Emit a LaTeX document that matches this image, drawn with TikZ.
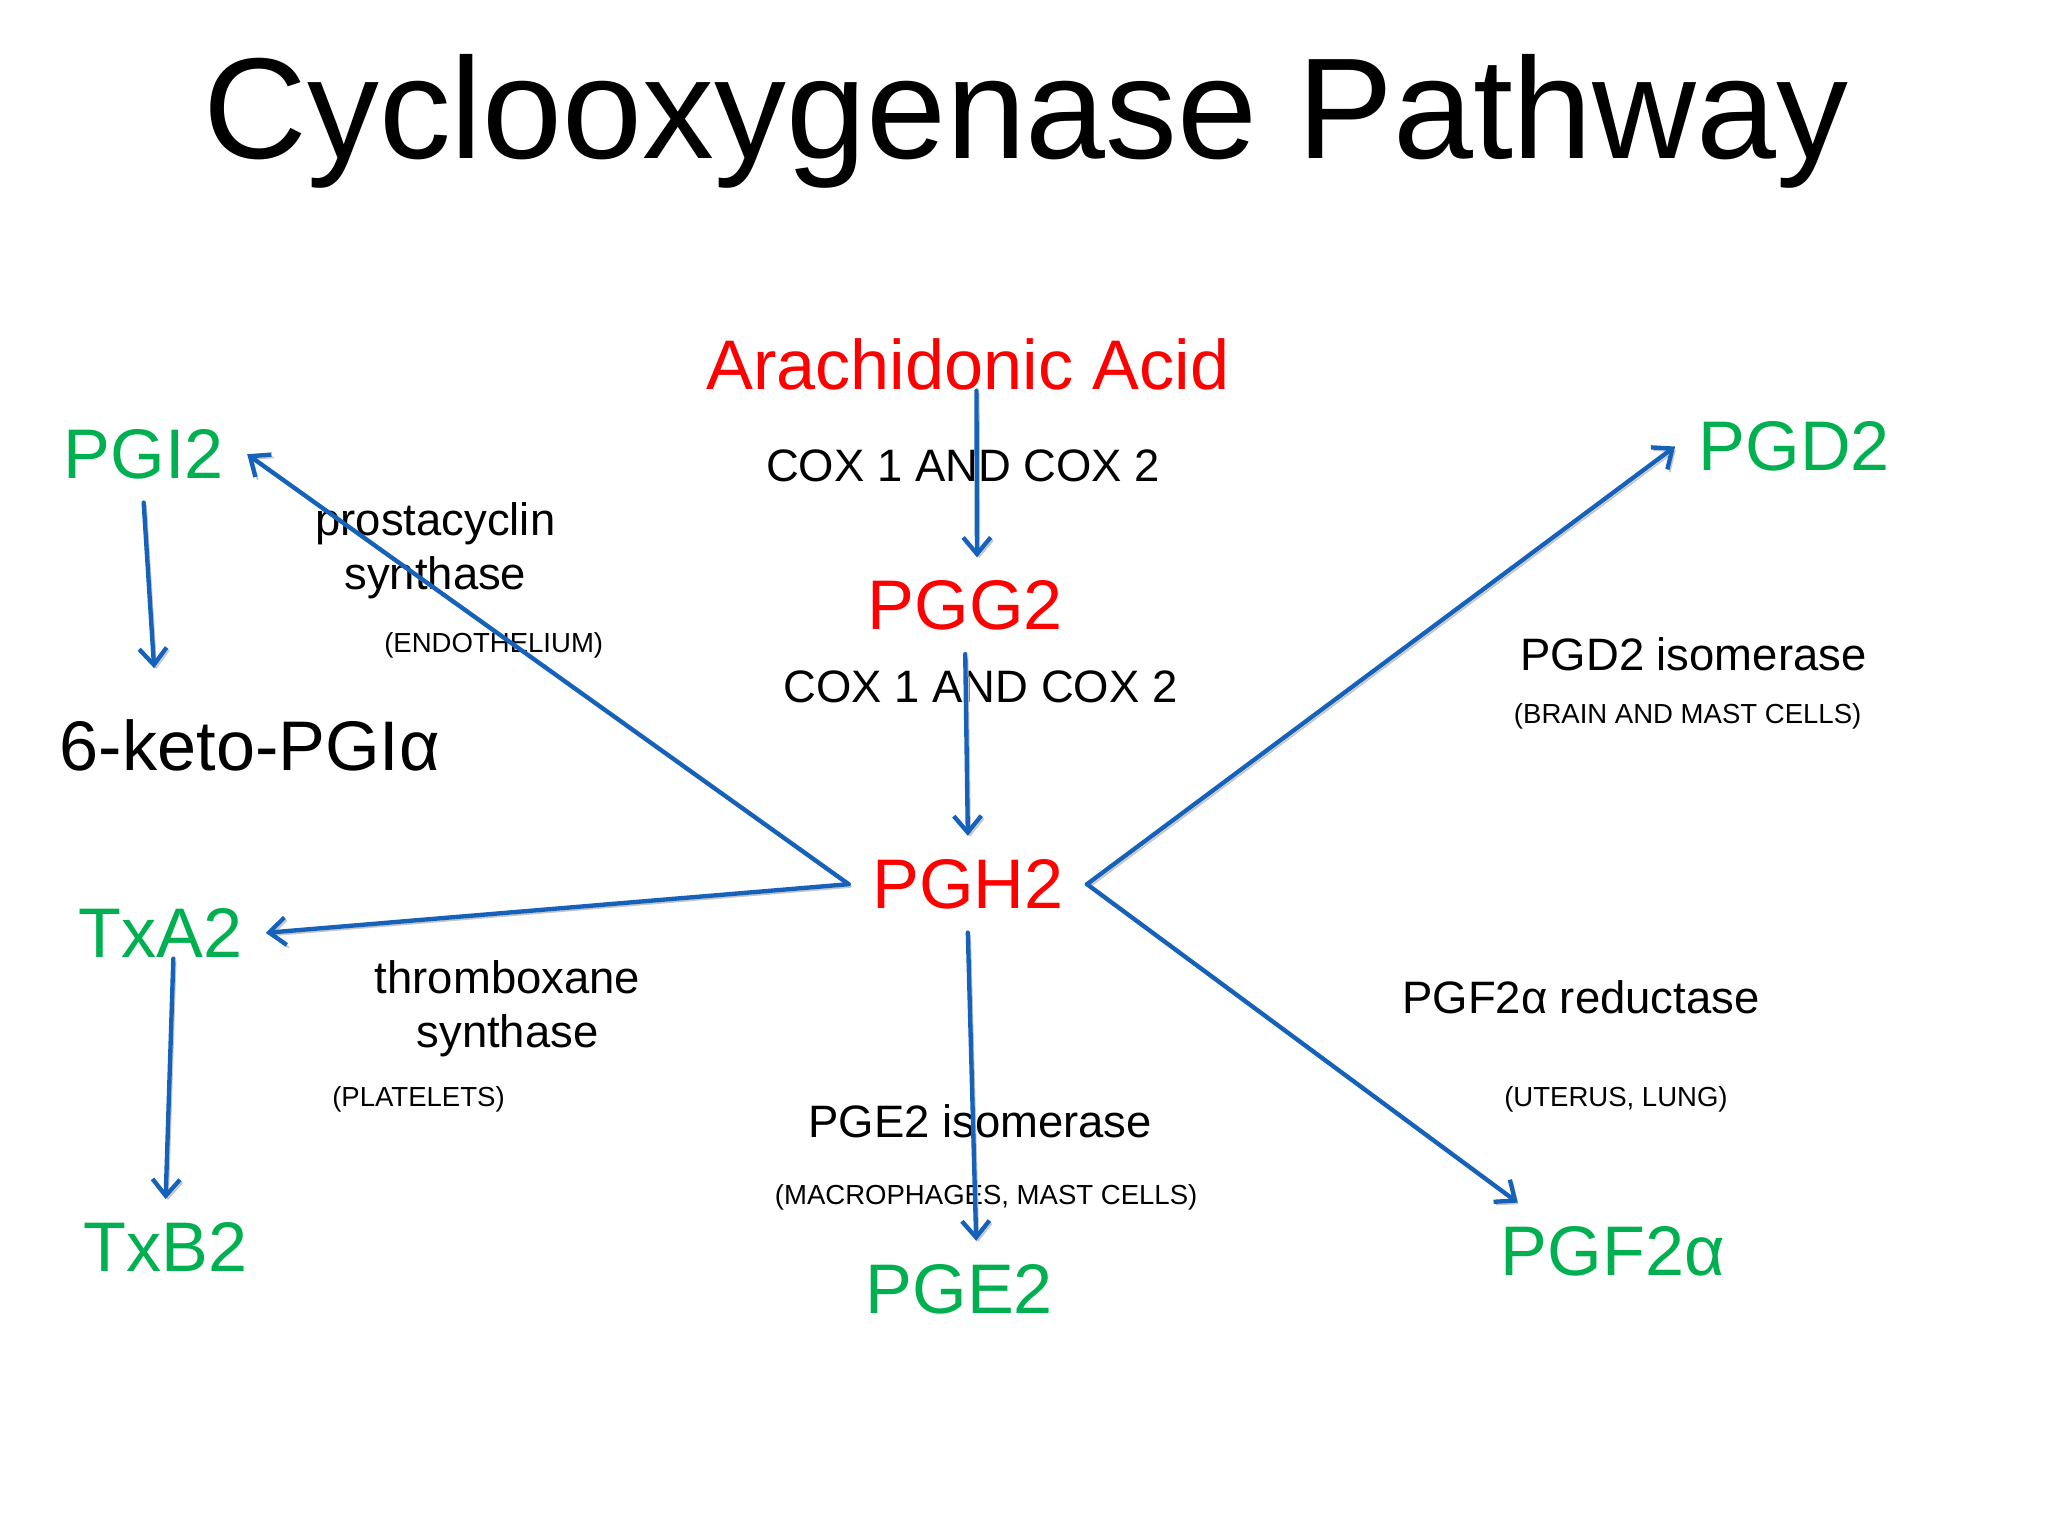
\documentclass[tikz,border=0pt]{standalone}
\usepackage{fontspec}
\setmainfont{Liberation Sans}
\usetikzlibrary{arrows.meta,calc}
\definecolor{coxred}{RGB}{255,0,0}
\definecolor{coxgreen}{RGB}{0,176,80}
\definecolor{coxblue}{RGB}{22,98,186}

\begin{document}
\begin{tikzpicture}[
  every node/.style={inner sep=0pt, anchor=base},
  cpd/.style={font=\fontsize{15.3}{18}\selectfont, outer sep=0.18cm},
  enz/.style={font=\fontsize{9.9}{11.8}\selectfont, align=center},
  site/.style={font=\fontsize{6}{7}\selectfont},
  arr/.style={-{Straight Barb[length=3.6pt,width=6pt]}, coxblue, line width=0.95pt, line cap=round,
    preaction={draw=black!22, transform canvas={xshift=0.5pt,yshift=-0.6pt}}}
]
\useasboundingbox (0,0) rectangle (15.68,11.76);
% Title
\node[font=\fontsize{31.3}{36}\selectfont] (title) at (7.856,10.548) {Cyclooxygenase Pathway};

% COX steps
\node[cpd,coxred,outer sep=0pt] (AA) at (7.41,8.774) {Arachidonic Acid};
\node[enz] (cox1) at (7.374,8.071) {COX 1 AND COX 2};
\node[cpd,coxred] (PGG2) at (7.39,6.937) {PGG2};
\node[enz] (cox2) at (7.507,6.38) {COX 1 AND COX 2};
\node[cpd,coxred] (PGH2) at (7.41,4.805) {PGH2};

% Left branch (prostacyclin)
\node[cpd,coxgreen] (PGI2) at (1.10,8.097) {PGI2};
\node[enz] (pcs) at (3.333,7.247) {prostacyclin\\synthase};
\node[site] (endo) at (3.78,6.762) {(ENDOTHELIUM)};
\node[cpd] (keto) at (1.914,5.864) {6-keto-PGIα};

% Left branch (thromboxane)
\node[cpd,coxgreen] (TxA2) at (1.227,4.43) {TxA2};
\node[enz] (txs) at (3.886,3.741) {thromboxane\\synthase};
\node[site] (plt) at (3.204,3.286) {(PLATELETS)};
\node[cpd,coxgreen] (TxB2) at (1.268,2.023) {TxB2};

% Bottom
\node[enz] (pgei) at (7.504,3.052) {PGE2 isomerase};
\node[site] (macro) at (7.55,2.541) {(MACROPHAGES, MAST CELLS)};
\node[cpd,coxgreen] (PGE2) at (7.344,1.704) {PGE2};

% Right branch
\node[cpd,coxgreen] (PGD2) at (13.737,8.156) {PGD2};
\node[enz] (pgdi) at (12.966,6.625) {PGD2 isomerase};
\node[site] (brain) at (12.921,6.221) {(BRAIN AND MAST CELLS)};
\node[enz] (pgfr) at (12.104,4.001) {PGF2α reductase};
\node[site] (uter) at (12.372,3.291) {(UTERUS, LUNG)};
\node[cpd,coxgreen] (PGF2a) at (12.347,1.997) {PGF2α};

% Arrows
\draw[arr] ([xshift=0.066cm]AA.south) -- ([xshift=0.09cm]PGG2.north);
\draw[arr] (PGG2.south) -- (PGH2.north);
\draw[arr] (PGH2.south) -- ([xshift=0.13cm]PGE2.north);
\draw[arr] (PGH2.west) -- (PGI2.east);
\draw[arr] (PGH2.west) -- (TxA2.east);
\draw[arr] (PGH2.east) -- (PGD2.west);
\draw[arr] (PGH2.east) -- (PGF2a.153);
\draw[arr] (PGI2.south) -- ($(PGI2.south |- keto.north)+(0.08,0.21)$);
\draw[arr] ([xshift=0.1cm,yshift=0.17cm]TxA2.south) -- (TxB2.north);
\end{tikzpicture}
\end{document}
